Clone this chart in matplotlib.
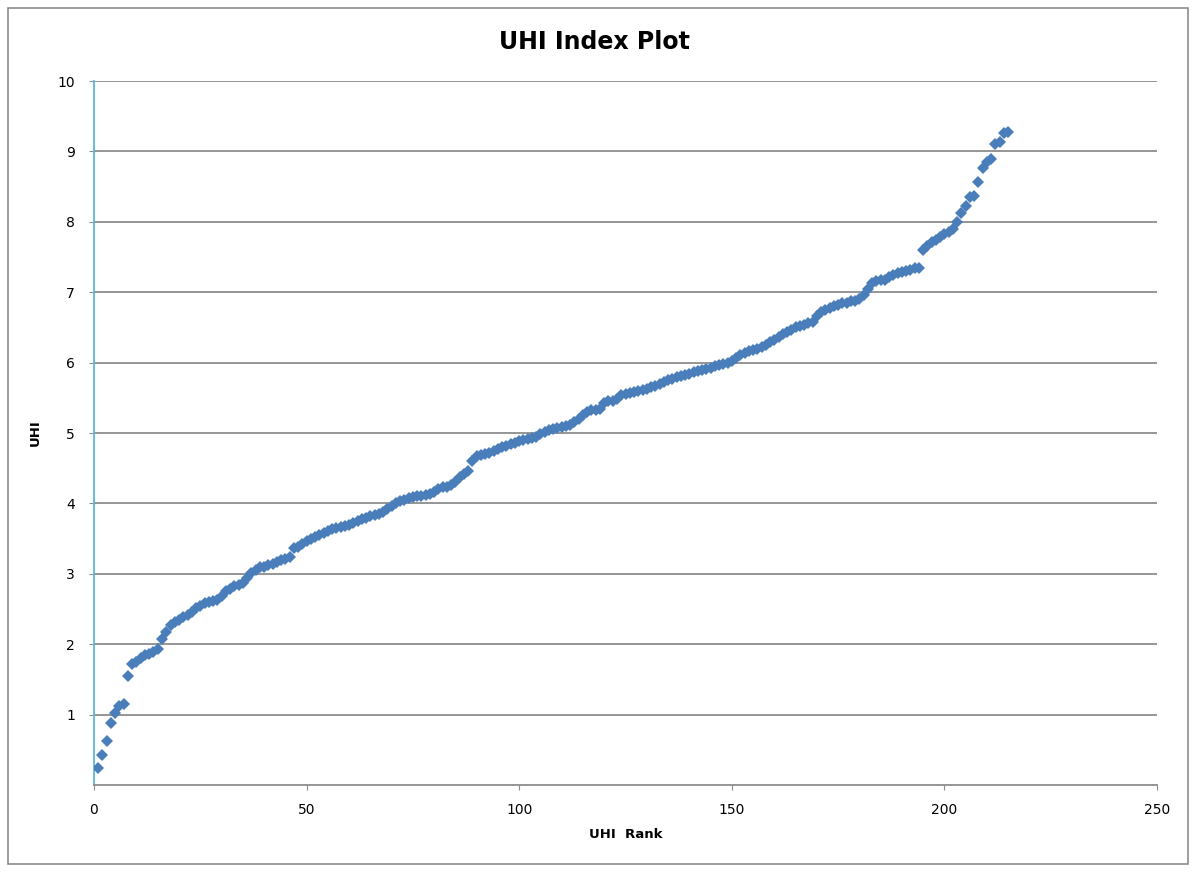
import numpy as np
import matplotlib
matplotlib.use("Agg")
import matplotlib.pyplot as plt
from matplotlib.patches import Rectangle

# UHI values, ranks 1..215
uhi = [
    0.24, 0.42, 0.62, 0.88, 1.03, 1.12, 1.15, 1.55, 1.72, 1.75,
    1.80, 1.84, 1.86, 1.89, 1.93, 2.07, 2.18, 2.28, 2.31, 2.34,
    2.38, 2.42, 2.46, 2.51, 2.55, 2.58, 2.60, 2.61, 2.63, 2.68,
    2.75, 2.79, 2.82, 2.84, 2.87, 2.94, 3.01, 3.06, 3.09, 3.10,
    3.12, 3.14, 3.17, 3.19, 3.21, 3.24, 3.37, 3.38, 3.42, 3.46,
    3.50, 3.53, 3.55, 3.58, 3.61, 3.63, 3.65, 3.66, 3.68, 3.70,
    3.72, 3.75, 3.78, 3.80, 3.82, 3.83, 3.85, 3.88, 3.92, 3.96,
    4.00, 4.03, 4.05, 4.07, 4.09, 4.10, 4.11, 4.12, 4.13, 4.16,
    4.20, 4.23, 4.24, 4.26, 4.31, 4.37, 4.42, 4.46, 4.60, 4.67,
    4.69, 4.70, 4.71, 4.74, 4.77, 4.80, 4.82, 4.84, 4.86, 4.88,
    4.90, 4.91, 4.93, 4.95, 4.98, 5.01, 5.04, 5.06, 5.07, 5.09,
    5.10, 5.12, 5.15, 5.20, 5.26, 5.30, 5.33, 5.33, 5.34, 5.42,
    5.45, 5.46, 5.48, 5.54, 5.56, 5.57, 5.58, 5.60, 5.61, 5.63,
    5.65, 5.67, 5.70, 5.73, 5.75, 5.77, 5.80, 5.81, 5.83, 5.84,
    5.86, 5.88, 5.90, 5.91, 5.93, 5.95, 5.96, 5.98, 5.99, 6.02,
    6.07, 6.11, 6.14, 6.16, 6.18, 6.20, 6.22, 6.25, 6.29, 6.32,
    6.37, 6.41, 6.44, 6.47, 6.50, 6.52, 6.54, 6.56, 6.58, 6.66,
    6.72, 6.75, 6.78, 6.80, 6.82, 6.84, 6.85, 6.87, 6.88, 6.90,
    6.96, 7.05, 7.13, 7.16, 7.17, 7.18, 7.21, 7.25, 7.27, 7.29,
    7.30, 7.32, 7.34, 7.35, 7.60, 7.66, 7.71, 7.74, 7.78, 7.82,
    7.86, 7.90, 8.00, 8.12, 8.22, 8.35, 8.37, 8.56, 8.76, 8.85,
    8.89, 9.11, 9.13, 9.26, 9.28,
]
rank = list(range(1, len(uhi) + 1))

x_ticks = [0, 50, 100, 150, 200, 250]
y_ticks = [1, 2, 3, 4, 5, 6, 7, 8, 9, 10]

plt.rcParams['font.family'] = ['DejaVu Sans']

fig = plt.figure(figsize=(12, 8.74), dpi=100)
ax = fig.add_axes([0.0783, 0.1018, 0.8859, 0.8055])

# outer chart border
fig.patches.append(Rectangle((8 / 1200, 10 / 874), 1180 / 1200, 856 / 874,
                             transform=fig.transFigure, fill=False,
                             edgecolor='#8c8c8c', linewidth=1.2))

ax.plot(rank, uhi, linestyle='none', marker='D', markersize=5.8,
        color='#4a7ebb', markeredgewidth=0, zorder=3)

ax.set_xlim(0, 250)
ax.set_ylim(0, 10)
ax.set_xticks(x_ticks)
ax.set_yticks(y_ticks)
ax.yaxis.grid(True, color='#8c8c8c', linewidth=1.3)
ax.set_axisbelow(True)

for s in ['top', 'right']:
    ax.spines[s].set_visible(False)
ax.spines['left'].set_color('#5bb7dc')
ax.spines['left'].set_linewidth(1.3)
ax.spines['bottom'].set_color('#8c8c8c')
ax.spines['bottom'].set_linewidth(1.3)

ax.tick_params(axis='x', direction='out', length=3.6, color='#8c8c8c',
               labelsize=10, pad=9)
ax.tick_params(axis='y', direction='out', length=3.6, color='#8c8c8c',
               labelsize=10, pad=10)

ax.set_xlabel('UHI  Rank', fontsize=9.5, fontweight='bold', labelpad=8)
ax.set_ylabel('UHI', fontsize=9.5, fontweight='bold', labelpad=11)

fig.text(0.495, 0.952, 'UHI Index Plot', ha='center', va='center',
         fontsize=17, fontweight='bold')

fig.savefig('out.png', dpi=100)
